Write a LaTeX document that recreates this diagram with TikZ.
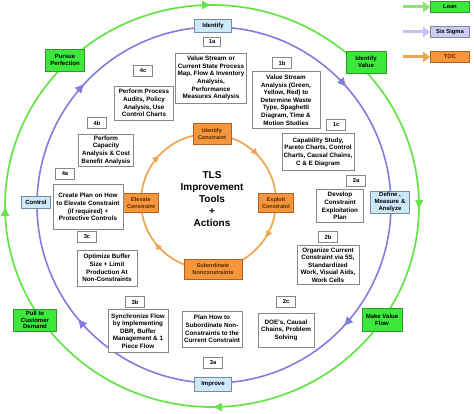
\documentclass[tikz,border=0pt]{standalone}
\usepackage{fontspec}
\setmainfont{Liberation Sans}
\usetikzlibrary{arrows.meta,decorations.markings}
\definecolor{gfill}{RGB}{60,232,60}
\definecolor{gborder}{RGB}{50,150,40}
\definecolor{gline}{RGB}{100,228,70}
\definecolor{gleg}{RGB}{140,230,110}
\definecolor{pline}{RGB}{130,125,220}
\definecolor{pleg}{RGB}{195,195,240}
\definecolor{pfill}{RGB}{205,205,242}
\definecolor{bfill}{RGB}{205,232,248}
\definecolor{bborder}{RGB}{120,140,160}
\definecolor{ofill}{RGB}{245,150,60}
\definecolor{oborder}{RGB}{175,95,30}
\definecolor{oline}{RGB}{240,165,80}
\definecolor{otext}{RGB}{90,40,0}
\definecolor{boxgray}{RGB}{135,135,135}
\begin{document}
\begin{tikzpicture}[x=1pt,y=-1pt,
  txt/.style={draw=boxgray,fill=white,line width=0.6pt,inner sep=0pt,align=center,
    font=\fontsize{6.3}{7.6}\selectfont\bfseries},
  lbl/.style={draw=boxgray,fill=white,line width=0.6pt,inner sep=0pt,
    minimum width=19pt,minimum height=10.5pt,font=\fontsize{5.8}{7}\selectfont\bfseries},
  gbox/.style={draw=gborder,fill=gfill,line width=0.6pt,inner sep=0pt,align=center,
    minimum width=40pt,minimum height=22pt,font=\fontsize{6}{7}\selectfont\bfseries},
  bbox/.style={draw=bborder,fill=bfill,line width=0.6pt,inner sep=0pt,align=center,
    font=\fontsize{6}{7.2}\selectfont\bfseries},
  obox/.style={draw=oborder,fill=ofill,line width=0.6pt,inner sep=0pt,align=center,
    text=otext,font=\fontsize{5.6}{6.8}\selectfont\bfseries},
  legbox/.style={line width=0.6pt,inner sep=0pt,minimum width=39pt,minimum height=11.5pt,
    font=\fontsize{5.8}{7}\selectfont\bfseries},
  legarrow/.style={line width=3pt,-{Triangle[length=7pt,width=10pt]}},
  garrow/.style={postaction={decorate},decoration={markings,
    mark=at position 0.003 with {\arrow{Latex[length=10pt,width=9pt]}},
    mark=at position 0.25 with {\arrow{Latex[length=10pt,width=9pt]}},
    mark=at position 0.5 with {\arrow{Latex[length=10pt,width=9pt]}},
    mark=at position 0.75 with {\arrow{Latex[length=10pt,width=9pt]}}}},
  parrow/.style={postaction={decorate},decoration={markings,
    mark=at position 0.12 with {\arrow{Latex[length=10pt,width=9pt]}},
    mark=at position 0.39 with {\arrow{Latex[length=10pt,width=9pt]}},
    mark=at position 0.62 with {\arrow{Latex[length=10pt,width=9pt]}},
    mark=at position 0.885 with {\arrow{Latex[length=10pt,width=9pt]}}}},
  oarrow/.style={postaction={decorate},decoration={markings,
    mark=at position 0.092 with {\arrow{Latex[length=8pt,width=7pt]}},
    mark=at position 0.397 with {\arrow{Latex[length=8pt,width=7pt]}},
    mark=at position 0.622 with {\arrow{Latex[length=8pt,width=7pt]}},
    mark=at position 0.883 with {\arrow{Latex[length=8pt,width=7pt]}}}}
]
\useasboundingbox[fill=white] (0,0) rectangle (474,414);

% circles
\draw[gline,line width=1.7pt,garrow] (212,206) ellipse [x radius=207, y radius=201];
\draw[pline,line width=1.6pt,parrow] (214,205) ellipse [x radius=177, y radius=178];
\draw[oline,line width=1.7pt,oarrow] (208.5,201.5) circle [radius=67.5];

% centre text
\node[font=\fontsize{10}{12}\selectfont\bfseries,align=center] (tls) at (212,199)
  {TLS\\Improvement\\Tools\\+\\Actions};

% orange boxes
\node[obox,minimum width=38pt,minimum height=21pt] (ic) at (212,134) {Identify\\Constraint};
\node[obox,minimum width=35pt,minimum height=19pt] (ec) at (276,203) {Exploit\\Constraint};
\node[obox,minimum width=58pt,minimum height=20pt] (sn) at (213,269) {Subordinate\\Nonconstraints};
\node[obox,minimum width=35pt,minimum height=19pt] (elc) at (141,203) {Elevate\\Constraint};

% blue boxes
\node[bbox,minimum width=37pt,minimum height=13pt] (identify) at (213,26) {Identify};
\node[bbox,minimum width=39pt,minimum height=22pt] (dma) at (390,202) {Define ,\\Measure\,\,\&\\Analyze};
\node[bbox,minimum width=37pt,minimum height=14pt] (improve) at (213,384) {Improve};
\node[bbox,minimum width=29pt,minimum height=12pt] (control) at (36,202) {Control};

% green boxes
\node[gbox,minimum width=39pt] (pp) at (65,60) {Pursue\\Perfection};
\node[gbox] (iv) at (366,62) {Identify\\Value};
\node[gbox,minimum height=23pt] (mvf) at (382,320) {Make Value\\Flow};
\node[gbox,minimum width=43pt,font=\fontsize{6}{6.6}\selectfont\bfseries] (pcd) at (35,320) {Pull to\\Customer\\Demand};

% step labels
\node[lbl,minimum width=17pt,minimum height=9.5pt] (l1a) at (212,42) {1a};
\node[lbl] (l1b) at (282,63) {1b};
\node[lbl] (l1c) at (336,125) {1c};
\node[lbl] (l2a) at (356,181) {2a};
\node[lbl] (l2b) at (328,237) {2b};
\node[lbl] (l2c) at (286,302) {2c};
\node[lbl] (l3a) at (213,363) {3a};
\node[lbl] (l3b) at (135,302) {3b};
\node[lbl] (l3c) at (87,237) {3c};
\node[lbl] (l4a) at (65,174) {4a};
\node[lbl] (l4b) at (97,123) {4b};
\node[lbl] (l4c) at (143,71) {4c};

% text boxes
\node[txt,minimum width=71pt,minimum height=50pt] (t1a) at (211,78)
  {Value Stream\,\,or\\Current State Process\\Map, Flow \& Inventory\\Analysis,\\Performance\\Measures Analysis};
\node[txt,minimum width=68pt,minimum height=57pt] (t1b) at (286,100)
  {Value Stream\\Analysis (Green,\\Yellow, Red) to\\Determine Waste\\Type, Spaghetti\\Diagram, Time \&\\Motion Studies};
\node[txt,minimum width=72pt,minimum height=37pt] (t1c) at (318,152)
  {Capability Study,\\Pareto Charts, Control\\Charts, Causal Chains,\\C \& E Diagram};
\node[txt,minimum width=47pt,minimum height=33pt] (t2a) at (340,206)
  {Develop\\Constraint\\Exploitation\\Plan};
\node[txt,minimum width=62pt,minimum height=39pt] (t2b) at (328,265)
  {Organize Current\\Constraint via 5S,\\Standardized\\Work, Visual Aids,\\Work Cells};
\node[txt,minimum width=56pt,minimum height=34pt] (t2c) at (286,330)
  {DOE's, Causal\\Chains, Problem\\Solving};
\node[txt,minimum width=60pt,minimum height=36pt] (t3a) at (212,329)
  {Plan How to\\Subordinate Non-\\Constraints to the\\Current Constraint};
\node[txt,minimum width=60pt,minimum height=43pt] (t3b) at (138,331)
  {Synchronize Flow\\by Implementing\\DBR, Buffer\\Management \& 1\\Piece Flow};
\node[txt,minimum width=60pt,minimum height=36pt] (t3c) at (107,268)
  {Optimize Buffer\\Size + Limit\\Production At\\Non-Constraints};
\node[txt,minimum width=70pt,minimum height=45pt] (t4a) at (88,207)
  {Create Plan on How\\to Elevate Constraint\\(if required) +\\Protective Controls};
\node[txt,minimum width=55pt,minimum height=32pt] (t4b) at (106,150)
  {Perform\\Capacity\\Analysis \& Cost\\Benefit Analysis};
\node[txt,minimum width=59pt,minimum height=34pt] (t4c) at (144,103)
  {Perform Process\\Audits, Policy\\Analysis, Use\\Control Charts};

% legend
\node[legbox,draw=gborder,fill=gfill] (lean) at (450,7) {Lean};
\node[legbox,draw=bborder,fill=pfill] (ss) at (450,32) {Six Sigma};
\node[legbox,draw=oborder,fill=ofill,text=otext] (toc) at (450,57) {TOC};
\coordinate (leanS) at (403,7);
\coordinate (ssS) at (403,32);
\coordinate (tocS) at (403,57);
\draw[legarrow,gleg] (leanS) -- (lean.west);
\draw[legarrow,pleg] (ssS) -- (ss.west);
\draw[legarrow,oline] (tocS) -- (toc.west);
\end{tikzpicture}
\end{document}
